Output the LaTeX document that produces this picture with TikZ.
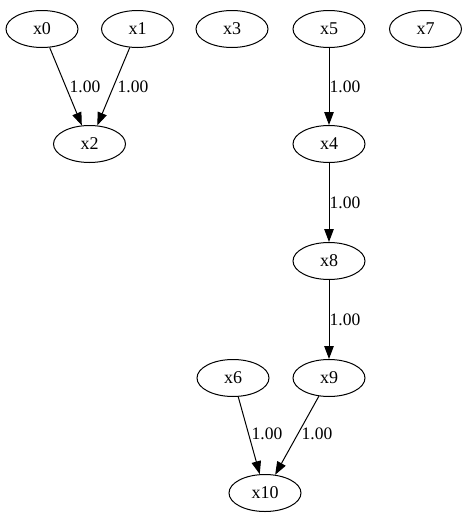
\documentclass[tikz,border=0pt]{standalone}
\usepackage{fontspec}
\setmainfont{Liberation Serif}
\usetikzlibrary{arrows.meta,shapes.geometric}
\begin{document}
\begin{tikzpicture}[x=1pt,y=1pt,
  var/.style={draw, ellipse, minimum width=72pt, minimum height=37pt, inner sep=0pt, line width=1pt, font=\fontsize{18}{20}\selectfont},
  lbl/.style={inner sep=0pt, font=\fontsize{17.5}{20}\selectfont},
  edge/.style={draw, line width=1pt, -{Triangle[length=13pt,width=9.5pt]}}]
\useasboundingbox (0,0) rectangle (467,-523);
\node[var] (x0) at (42,-29) {x0};
\node[var] (x1) at (137.5,-29) {x1};
\node[var] (x3) at (232,-29) {x3};
\node[var] (x5) at (329,-29) {x5};
\node[var] (x7) at (425.5,-29) {x7};
\node[var] (x2) at (89.5,-144) {x2};
\node[var] (x4) at (329,-144) {x4};
\node[var] (x8) at (329,-261) {x8};
\node[var] (x6) at (233,-378) {x6};
\node[var] (x9) at (329,-378) {x9};
\node[var] (x10) at (265,-493) {x10};
\draw[edge] (x0) -- (x2);
\draw[edge] (x1) -- (x2);
\draw[edge] (x5) -- (x4);
\draw[edge] (x4) -- (x8);
\draw[edge] (x8) -- (x9);
\draw[edge] (x6) -- (x10);
\draw[edge] (x9) -- (x10);
\node[lbl] (l02) at (85,-87) {1.00};
\node[lbl] (l12) at (133,-87) {1.00};
\node[lbl] (l54) at (345,-87) {1.00};
\node[lbl] (l48) at (345,-203) {1.00};
\node[lbl] (l89) at (345,-320) {1.00};
\node[lbl] (l610) at (267,-434) {1.00};
\node[lbl] (l910) at (317,-434) {1.00};
\end{tikzpicture}
\end{document}
